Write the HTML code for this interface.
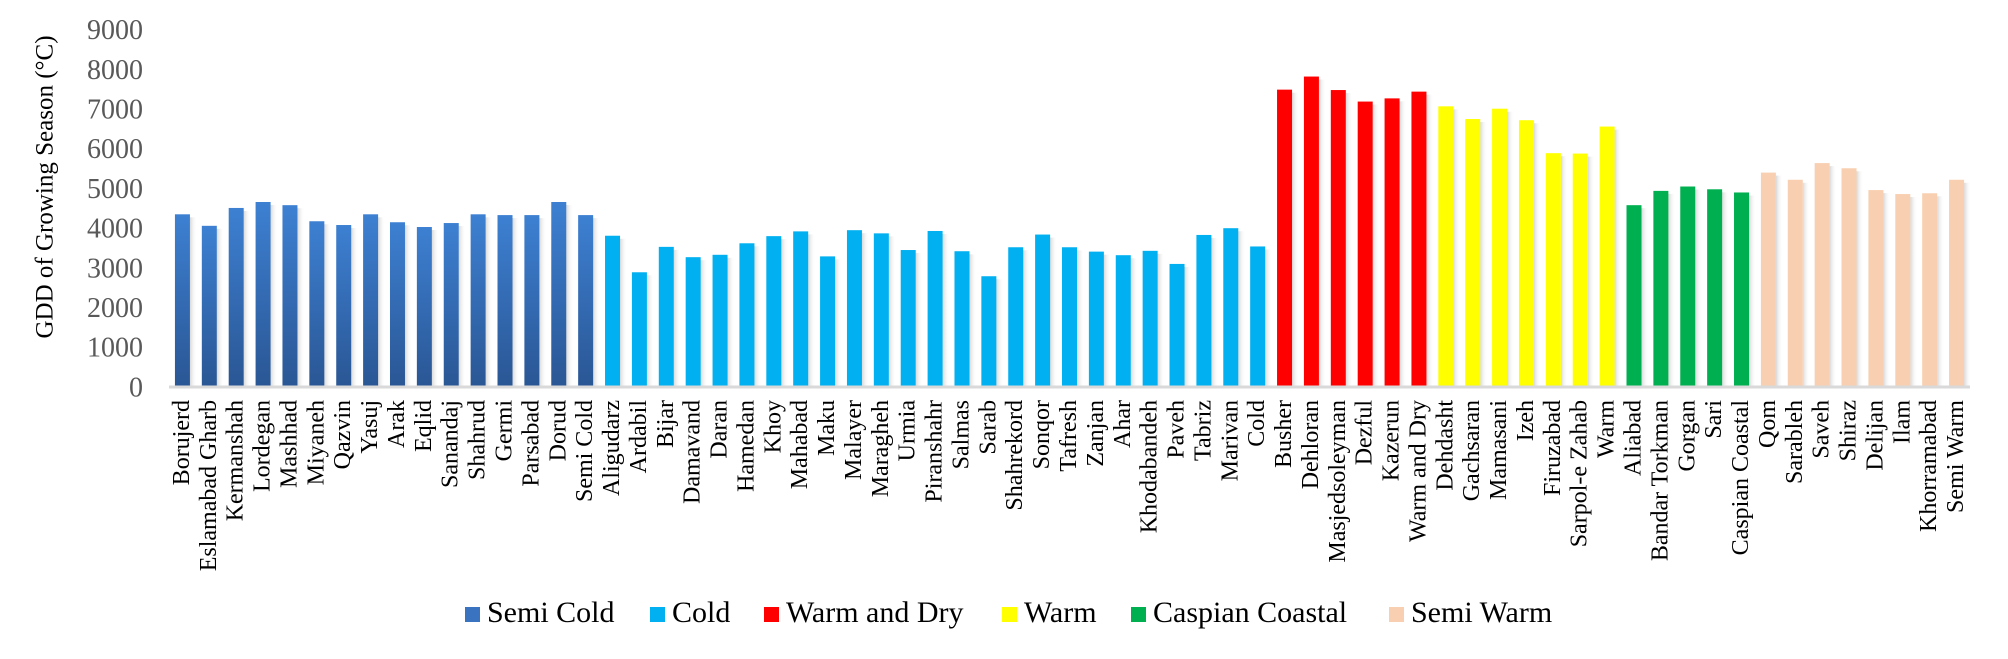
<!DOCTYPE html>
<html><head><meta charset="utf-8"><style>
body{margin:0;background:#fff;}
svg text{font-family:"Liberation Serif","Times New Roman",serif !important;}
</style></head><body>
<svg id="chart" width="2008" height="654" xmlns="http://www.w3.org/2000/svg" font-family="Liberation Serif, serif">
<defs>
<linearGradient id="gSemiCold" x1="0" y1="0" x2="0" y2="1"><stop offset="0" stop-color="#3d80d2"/><stop offset="1" stop-color="#2a5694"/></linearGradient>
<linearGradient id="gShadow" x1="0" y1="0" x2="1" y2="0"><stop offset="0" stop-color="#d8d8d8"/><stop offset="1" stop-color="#ffffff" stop-opacity="0"/></linearGradient>
</defs>
<g id="marks"></g>
<line x1="169" y1="387" x2="1970" y2="387" stroke="#d9d9d9" stroke-width="3"/>
<g id="yticks"></g>
<g id="xlabels"></g>
<text x="47" y="187" font-size="25" font-family="Liberation Serif, serif" text-anchor="middle" dominant-baseline="middle" transform="rotate(-90 47 187)" fill="#000">GDD of Growing Season (°C)</text>
<g id="legend"></g>
</svg>
<script>
const categories = ["Borujerd","Eslamabad Gharb","Kermanshah","Lordegan","Mashhad","Miyaneh","Qazvin","Yasuj","Arak","Eqlid","Sanandaj","Shahrud","Germi","Parsabad","Dorud","Semi Cold",
"Aligudarz","Ardabil","Bijar","Damavand","Daran","Hamedan","Khoy","Mahabad","Maku","Malayer","Maragheh","Urmia","Piranshahr","Salmas","Sarab","Shahrekord","Sonqor","Tafresh","Zanjan","Ahar","Khodabandeh","Paveh","Tabriz","Marivan","Cold",
"Busher","Dehloran","Masjedsoleyman","Dezful","Kazerun","Warm and Dry",
"Dehdasht","Gachsaran","Mamasani","Izeh","Firuzabad","Sarpol-e Zahab","Warm",
"Aliabad","Bandar Torkman","Gorgan","Sari","Caspian Coastal",
"Qom","Sarableh","Saveh","Shiraz","Delijan","Ilam","Khorramabad","Semi Warm"];
const values = [4350,4060,4510,4660,4580,4175,4080,4350,4150,4030,4130,4350,4330,4330,4660,4330,
3810,2890,3530,3270,3330,3620,3800,3920,3290,3950,3870,3450,3930,3420,2790,3520,3840,3520,3410,3320,3430,3100,3830,4000,3540,
7490,7820,7480,7190,7270,7440,
7070,6750,7010,6720,5890,5880,6560,
4580,4940,5050,4980,4900,
5400,5220,5640,5510,4960,4860,4880,5220];
const groupSizes = [16,25,6,7,5,8];
const groupNames = ["Semi Cold","Cold","Warm and Dry","Warm","Caspian Coastal","Semi Warm"];
const groupColors = ["url(#gSemiCold)","#00b0f0","#ff0000","#ffff00","#00b050","#f8cfb0"];
const legendSwatch = ["#3a74c0","#00b0f0","#ff0000","#ffff00","#00b050","#f8cfb0"];
const yTicks = [0,1000,2000,3000,4000,5000,6000,7000,8000,9000];

const NS="http://www.w3.org/2000/svg";
const FF="Liberation Serif, Times New Roman, serif";
const x0=169,x1=1970,base=387,perUnit=0.0397;
const band=(x1-x0)/categories.length;
function xc(i){return x0+band*(i+0.5);}
function y(v){return base-v*perUnit;}
function mk(t,a){const e=document.createElementNS(NS,t);for(const k in a)e.setAttribute(k,a[k]);return e;}
const groupOf=[];groupSizes.forEach((n,g)=>{for(let k=0;k<n;k++)groupOf.push(g);});
const marks=document.getElementById('marks');
const bw=15;
values.forEach((v,i)=>{
  const sh=mk('rect',{x:xc(i)+bw/2,y:y(v)+3,width:7,height:base-y(v)-3,fill:'url(#gShadow)'});
  
  
  marks.appendChild(sh);
  const r=mk('rect',{x:xc(i)-bw/2,y:y(v),width:bw,height:base-y(v),fill:groupColors[groupOf[i]]});
  
  
  marks.appendChild(r);
});
const yt=document.getElementById('yticks');
yTicks.forEach(t=>{
  const e=mk('text',{x:143,y:y(t)+3,'font-size':28,'font-family':FF,'text-anchor':'end','dominant-baseline':'middle',fill:'#595959'});
  e.textContent=t;
  
  
  yt.appendChild(e);
});
const xl=document.getElementById('xlabels');
categories.forEach((c,i)=>{
  const cx=xc(i)+1;
  const e=mk('text',{x:cx,y:400,'font-size':24,'font-family':FF,'text-anchor':'end','dominant-baseline':'middle',fill:'#000',transform:'rotate(-90 '+cx+' 400)'});
  e.textContent=c;
  
  
  xl.appendChild(e);
});
const lg=document.getElementById('legend');
const lx=[465,650,764,1002,1131,1389];
groupNames.forEach((n,g)=>{
  const s=mk('rect',{x:lx[g],y:607,width:15,height:15,fill:legendSwatch[g]});
  
  
  lg.appendChild(s);
  const t=mk('text',{x:lx[g]+22,y:615,'font-size':30,'font-family':FF,'dominant-baseline':'middle',fill:'#000'});
  t.textContent=n;
  
  
  lg.appendChild(t);
});
</script>
</body></html>
